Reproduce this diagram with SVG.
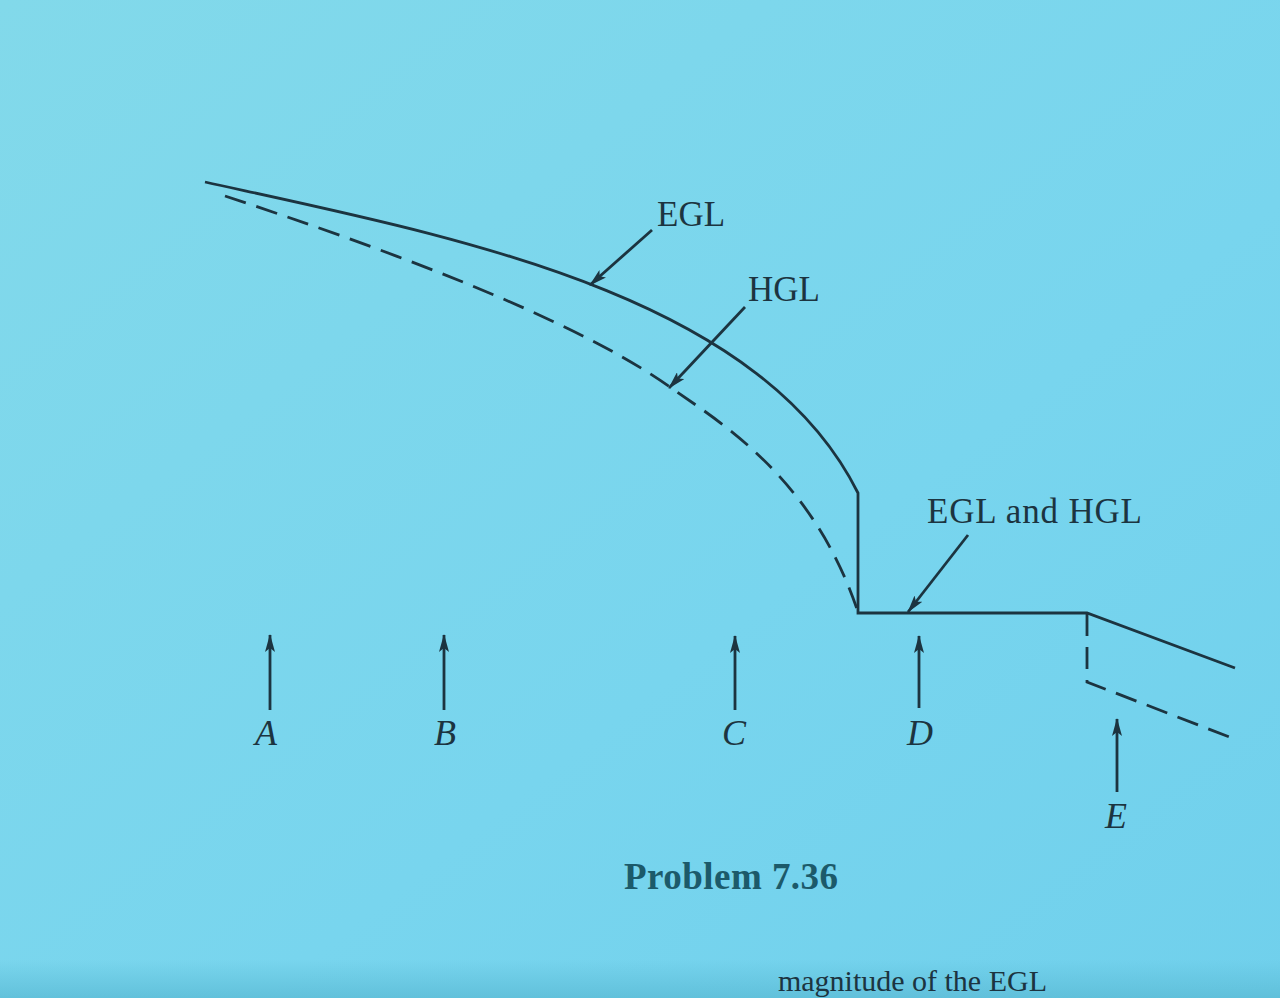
<svg xmlns="http://www.w3.org/2000/svg" width="1280" height="998" viewBox="0 0 1280 998">
  <defs>
    <linearGradient id="bg" x1="0" y1="0" x2="1" y2="1">
      <stop offset="0" stop-color="#82d9ea"/>
      <stop offset="0.6" stop-color="#78d5ee"/>
      <stop offset="1" stop-color="#70d0ec"/>
    </linearGradient>
    <linearGradient id="shade" x1="0" y1="0" x2="0" y2="1">
      <stop offset="0" stop-color="#5cbcd6" stop-opacity="0"/>
      <stop offset="1" stop-color="#5cbcd6" stop-opacity="0.8"/>
    </linearGradient>
    <marker id="ah" viewBox="0 0 18 10" refX="17" refY="5" markerWidth="18" markerHeight="10" markerUnits="userSpaceOnUse" orient="auto">
      <path d="M0,0 L18,5 L0,10 L4,5 Z" fill="#1c3440"/>
    </marker>
    <style>
      .line { fill: none; stroke: #1c3440; stroke-width: 2.8; stroke-linejoin: miter; }
      .dash { fill: none; stroke: #1c3440; stroke-width: 2.8; stroke-dasharray: 22 11; }
      .lead { fill: none; stroke: #1c3440; stroke-width: 2.8; marker-end: url(#ah); }
      .lbl { font-family: "Liberation Serif", "Times New Roman", serif; font-size: 35px; fill: #1c3440; }
      .pt { font-family: "Liberation Serif", "Times New Roman", serif; font-style: italic; font-size: 36px; fill: #1c3440; text-anchor: middle; }
      .title { font-family: "Liberation Serif", "Times New Roman", serif; font-weight: bold; font-size: 37px; fill: #1c5a6a; }
      .body { font-family: "Liberation Serif", "Times New Roman", serif; font-size: 30px; fill: #1c3440; }
    </style>
  </defs>

  <rect x="0" y="0" width="1280" height="998" fill="url(#bg)"/>
  <rect x="0" y="960" width="1280" height="38" fill="url(#shade)"/>

  <g id="connectors">
    <path id="egl-line" class="line" d="M205,182 C455,237 758,293 858,493 L858,613 L1087,613 L1235,668"/>
    <path id="hgl-line" class="dash" d="M225,196 C375,245.5 570,316 670,387 C720,422.5 813,477 858,612"/>
    <path id="hgl-line-2" class="dash" d="M1087,614 L1087,682 L1232,738"/>
    <line class="lead" x1="652" y1="230" x2="590" y2="285"/>
    <line class="lead" x1="745" y1="307" x2="669" y2="388"/>
    <line class="lead" x1="968" y1="535" x2="908" y2="612"/>
    <line class="lead" x1="270" y1="710" x2="270" y2="635"/>
    <line class="lead" x1="444" y1="710" x2="444" y2="635"/>
    <line class="lead" x1="735" y1="710" x2="735" y2="636"/>
    <line class="lead" x1="919" y1="708" x2="919" y2="636"/>
    <line class="lead" x1="1117" y1="792" x2="1117" y2="719"/>
  </g>

  <g id="label-egl"><text class="lbl" x="657" y="226">EGL</text></g>
  <g id="label-hgl"><text class="lbl" x="748" y="301">HGL</text></g>
  <g id="label-egl-hgl"><text class="lbl" x="927" y="523" textLength="215">EGL and HGL</text></g>

  <g id="point-a"><text class="pt" x="266" y="745">A</text></g>
  <g id="point-b"><text class="pt" x="445" y="745">B</text></g>
  <g id="point-c"><text class="pt" x="734" y="745">C</text></g>
  <g id="point-d"><text class="pt" x="920" y="745">D</text></g>
  <g id="point-e"><text class="pt" x="1116" y="828">E</text></g>

  <g id="caption"><text class="title" x="624" y="889" textLength="214">Problem 7.36</text></g>
  <g id="page-text"><text class="body" x="1047" y="991" text-anchor="end">magnitude of the EGL</text></g>
</svg>
